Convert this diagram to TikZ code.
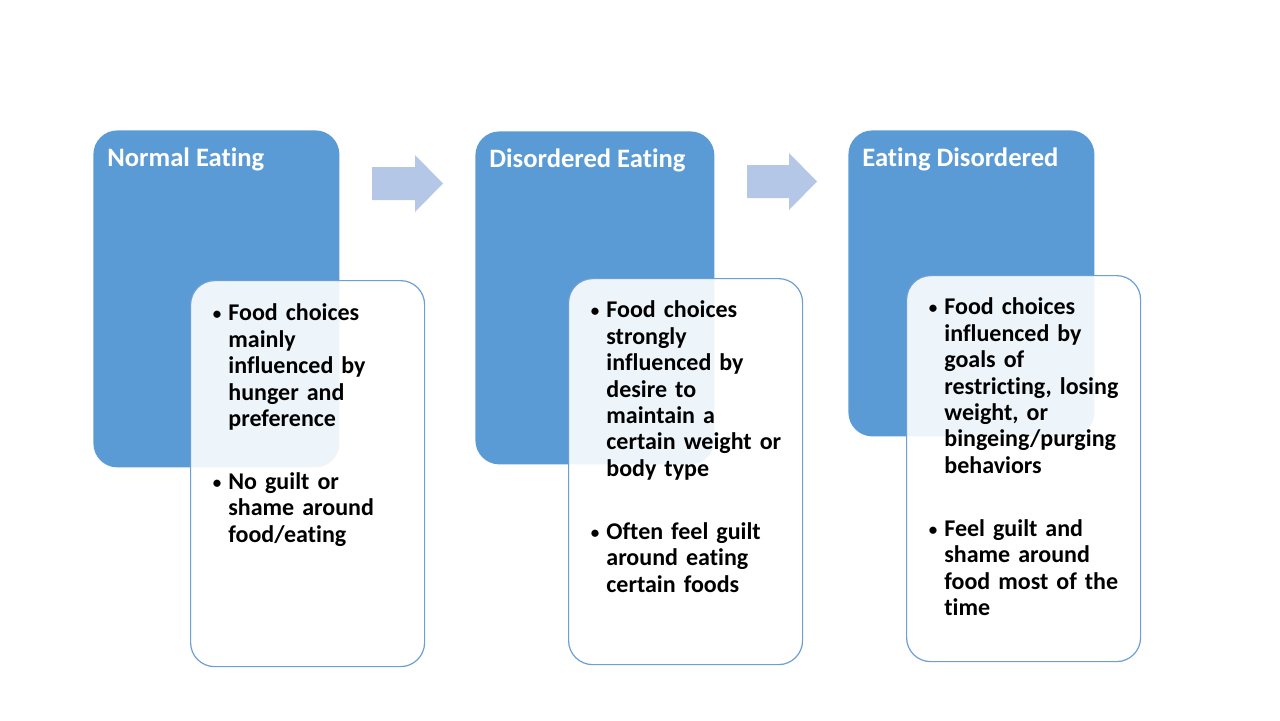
\documentclass[tikz,border=0pt]{standalone}
\usepackage{fontspec}
\setmainfont{Carlito}[Ligatures={NoCommon,NoRare}, Contextuals=NoAlternate,
  RawFeature={-liga;-clig;-calt}]
\usepackage{enumitem}
\usetikzlibrary{positioning}
\definecolor{stageblue}{HTML}{5B9BD5}
\definecolor{edgeblue}{HTML}{6C9FD3}
\definecolor{arrowblue}{HTML}{B4C7E7}
\setlist[itemize]{label={\fontsize{8.5}{8.5}\selectfont\raisebox{0.6pt}{\textbullet}},
  leftmargin=9pt, labelsep=3.5pt, topsep=0pt, partopsep=0pt, parsep=0pt, itemsep=18.3pt}

\begin{document}
\begin{tikzpicture}[x=0.5pt,y=-0.5pt,
  stage/.style={rounded corners=12pt, fill=stageblue, anchor=north west, inner sep=0pt},
  notes/.style={rounded corners=12pt, draw=edgeblue, line width=0.6pt, fill=white,
                fill opacity=0.9, anchor=north west, inner sep=0pt,
                minimum width=117pt, minimum height=193pt},
  heading/.style={anchor=base west, inner sep=0pt, text=white,
                  font=\fontsize{13.3}{16}\selectfont\bfseries},
  bullets/.style={anchor=north west, inner sep=0pt, text width=110pt, align=left,
                  font=\fontsize{12}{13.2}\selectfont\bfseries},
  blockarrow/.style={fill=arrowblue}
]
  \useasboundingbox (0,0) rectangle (1280,720);
  % stages
  \node[stage, minimum width=123pt, minimum height=168.5pt] (b1) at (93,130) {};
  \node[stage, minimum width=119.5pt, minimum height=166.5pt] (b2) at (475,131) {};
  \node[stage, minimum width=123pt, minimum height=153pt] (b3) at (848,130) {};
  \node[heading] (h1) at ([shift={(14,36)}]b1.north west) {Normal Eating};
  \node[heading] (h2) at ([shift={(14,36)}]b2.north west) {Disordered Eating};
  \node[heading] (h3) at ([shift={(14,36)}]b3.north west) {Eating Disordered};
  % arrows
  \fill[blockarrow] (372,167) -- ++(43,0) -- ++(0,-12) -- ++(28,28.5) -- ++(-28,28.5)
        -- ++(0,-12) -- ++(-43,0) -- cycle;
  \fill[blockarrow] (747,165) -- ++(42,0) -- ++(0,-12) -- ++(28,28.5) -- ++(-28,28.5)
        -- ++(0,-12) -- ++(-42,0) -- cycle;
  % notes
  \node[notes] (w1) at (190,280) {};
  \node[notes] (w2) at (568,278) {};
  \node[notes] (w3) at (906,275) {};
  \node[bullets] (t1) at ([shift={(20,14)}]w1.north west) {%
    \begin{itemize}
      \item Food choices\\ mainly\\ influenced by\\ hunger and\\ preference
      \item No guilt or\\ shame around\\ food/eating
    \end{itemize}};
  \node[bullets] (t2) at ([shift={(20,13)}]w2.north west) {%
    \begin{itemize}
      \item Food choices\\ strongly\\ influenced by\\ desire to\\ maintain a\\ certain weight or\\ body type
      \item Often feel guilt\\ around eating\\ certain foods
    \end{itemize}};
  \node[bullets] (t3) at ([shift={(20,13)}]w3.north west) {%
    \begin{itemize}
      \item Food choices\\ influenced by\\ goals of\\ restricting, losing\\ weight, or\\ bingeing/purging\\ behaviors
      \item Feel guilt and\\ shame around\\ food most of the\\ time
    \end{itemize}};
\end{tikzpicture}
\end{document}
